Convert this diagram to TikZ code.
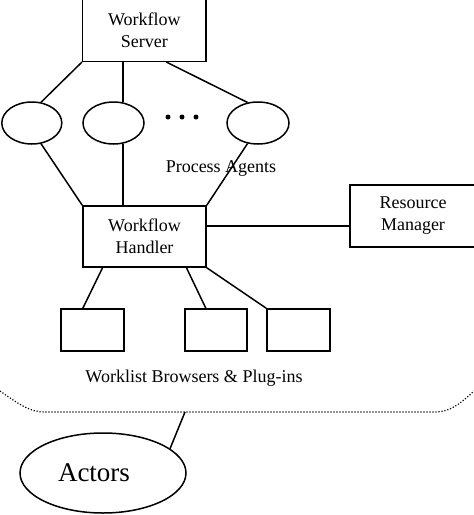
\documentclass[tikz,border=0pt]{standalone}
\usepackage{fontspec}
\setmainfont{Liberation Serif}
\usetikzlibrary{shapes.geometric,calc}
\begin{document}
\begin{tikzpicture}[x=1pt,y=-1pt,line width=1.5pt,
  box/.style={draw,rectangle,inner sep=0pt,align=center,font=\fontsize{18}{22}\selectfont},
  agent/.style={draw,ellipse,inner sep=0pt},
  lbl/.style={inner sep=0pt,font=\fontsize{18}{22}\selectfont}]
\useasboundingbox (0,0) rectangle (474,515);
% boxes
\node[box,minimum width=123.3pt,minimum height=62.3pt] (server) at (144.35,30.15) {Workflow\\Server};
\node[box,minimum width=123pt,minimum height=61pt] (handler) at (144.5,236.5) {Workflow\\Handler};
\node[box,minimum width=126pt,minimum height=62pt] (rm) at (413,216) {Resource\\Manager};
\node[box,minimum width=63pt,minimum height=42pt] (b1) at (92.5,330) {};
\node[box,minimum width=62pt,minimum height=42pt] (b2) at (216,330) {};
\node[box,minimum width=63pt,minimum height=42pt] (b3) at (298.5,330) {};
% agents
\node[agent,minimum width=60pt,minimum height=42pt] (e1) at (31.8,123) {};
\node[agent,minimum width=61pt,minimum height=42pt] (e2) at (113.5,123) {};
\node[agent,minimum width=62pt,minimum height=42pt] (e3) at (258,123) {};
\fill (168,117) circle (2.5pt) (182,117) circle (2.5pt) (196,117) circle (2.5pt);
% labels
\node[lbl] (pa) at (221,168) {Process Agents};
\node[lbl] (wb) at (194,378) {Worklist Browsers \& Plug-ins};
% actors
\node[draw,ellipse,inner sep=0pt,minimum width=166pt,minimum height=80pt,font=\fontsize{27}{32}\selectfont] (actors) at (103,473) {Actors\hspace*{18pt}};
% connectors server-agents
\draw (server.south west) -- (e1.66);
\draw (e2.65 |- server.south) -- (e2.65);
\draw ($(server.south west)!0.676!(server.south east)$) -- (e3.117);
% agents-handler
\draw (e1.-66) -- (handler.north west);
\draw (e2.-65) -- (e2.-65 |- handler.north);
\draw (e3.-117) -- (handler.north east);
% handler-rm
\coordinate (hr) at ($(handler.north east)!0.33!(handler.south east)$);
\draw (hr) -- (hr -| rm.west);
% handler-boxes
\draw ($(handler.south west)!0.163!(handler.south east)$) -- ($(b1.north west)!0.35!(b1.north east)$);
\draw ($(handler.south west)!0.837!(handler.south east)$) -- ($(b2.north west)!0.34!(b2.north east)$);
\draw (handler.south east) -- (b3.north west);
% dotted boundary
\draw[line width=1.2pt,dash pattern=on 1.2pt off 1.8pt] (0,391) .. controls (20,405) and (30,412) .. (45,412) -- (435,412) .. controls (450,412) and (460,404) .. (474,391);
\coordinate (dc) at (185,412);
\draw (dc) -- (actors.20);
\end{tikzpicture}
\end{document}
